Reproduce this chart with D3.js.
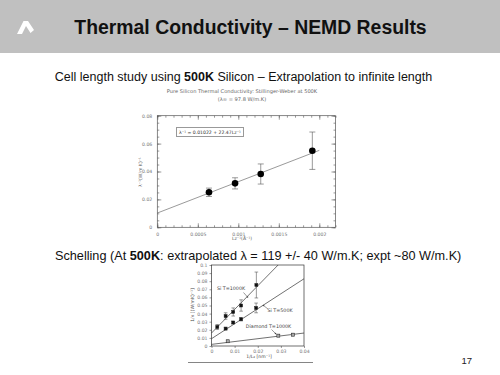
<!DOCTYPE html>
<html>
<head>
<meta charset="utf-8">
<script src="https://cdn.jsdelivr.net/npm/d3@7"></script>
<style>
  body { margin: 0; background: #fff; }
  svg text { font-family: "Liberation Sans", Arial, sans-serif; }
  .tiny text, text.tiny { font-family: "DejaVu Sans", sans-serif; font-size: 4.6px; fill: #777; }
  .tiny .domain { display: none; }
  .tiny line { stroke: #555; stroke-width: 0.6; }
</style>
</head>
<body>
<div id="viz"></div>
<script>
// top plot: cell length study, 500K silicon
var lzInv = [0.000638, 0.00096, 0.001277, 0.001914];
var lamInv = [0.0251, 0.0315, 0.0382, 0.0549];
var lamErr = [0.003, 0.004, 0.0072, 0.0134];
var fitA = 0.01022, fitB = 22.47;
var topXTicks = [0, 0.0005, 0.001, 0.0015, 0.002];
var topYTicks = [0, 0.02, 0.04, 0.06, 0.08];

// bottom plot: Schelling data
var si1000X = [0.0025, 0.0061, 0.0094, 0.0128, 0.0194];
var si1000Y = [0.0235, 0.037, 0.042, 0.050, 0.0753];
var si1000E = [0.003, 0.004, 0.005, 0.007, 0.016];
var si500X = [0.0061, 0.0094, 0.0128, 0.0193];
var si500Y = [0.0215, 0.029, 0.033, 0.047];
var si500E = [0.0015, 0.0015, 0.002, 0.006];
var diaX = [0.007, 0.0289, 0.0352];
var diaY = [0.0058, 0.0128, 0.014];
var diaE = [0.0015, 0.0015, 0.0015];
var fit1000 = [[0, 0.016], [0.0288, 0.1]];
var fit500 = [[0, 0.009], [0.04, 0.083]];
var fitDia = [[0, 0.002], [0.04, 0.016]];
var botXTicks = [0, 0.01, 0.02, 0.03, 0.04];
var botYTicks = [0, 0.01, 0.02, 0.03, 0.04, 0.05, 0.06, 0.07, 0.08, 0.09, 0.1];

var svg = d3.select('#viz').append('svg')
  .attr('width', 500).attr('height', 375);

// header band
svg.append('rect').attr('x', 0).attr('y', 0).attr('width', 500).attr('height', 53).attr('fill', '#c0c0c0');
svg.append('path')
  .attr('d', 'M17,34 L23.5,21 L28,21 L34,30 L30.5,33 L26,26 L22,34 Z')
  .attr('fill', '#fff');
svg.append('text')
  .attr('x', 250.5).attr('y', 34)
  .attr('text-anchor', 'middle')
  .attr('font-size', 19.4).attr('font-weight', 'bold').attr('fill', '#111')
  .text('Thermal Conductivity \u2013 NEMD Results');

let sub = svg.append('text')
  .attr('x', 243.5).attr('y', 81)
  .attr('text-anchor', 'middle')
  .attr('font-size', 12.5).attr('fill', '#111');
sub.append('tspan').text('Cell length study using ');
sub.append('tspan').attr('font-weight', 'bold').text('500K');
sub.append('tspan').text(' Silicon \u2013 Extrapolation to infinite length');

// ---------- top plot ----------
let xT = d3.scaleLinear().domain([0, 0.0022]).range([157.3, 335.5]);
let yT = d3.scaleLinear().domain([0, 0.08]).range([227.3, 115.7]);
let fmt = (d) => String(+d.toFixed(4));

let topPlot = svg.append('g').attr('class', 'tiny');

topPlot.append('text').attr('class', 'tiny').attr('x', 242).attr('y', 92.5).attr('text-anchor', 'middle')
  .style('font-size', '5.1px').style('fill', '#666')
  .text('Pure Silicon Thermal Conductivity: Stillinger-Weber at 500K');
topPlot.append('text').attr('class', 'tiny').attr('x', 242).attr('y', 100.5).attr('text-anchor', 'middle')
  .style('font-size', '5.1px').style('fill', '#666')
  .text('(\u03bb\u221e = 97.8 W/m.K)');

let xMinor = d3.range(0, 0.00221, 0.0001);
let yMinor = d3.range(0, 0.0801, 0.005);

topPlot.append('g').attr('transform', `translate(0, ${yT.range()[0]})`)
  .call(d3.axisBottom(xT).tickValues(xMinor).tickSize(-2).tickFormat(''));
topPlot.append('g').attr('transform', `translate(0, ${yT.range()[1]})`)
  .call(d3.axisTop(xT).tickValues(xMinor).tickSize(-2).tickFormat(''));
topPlot.append('g').attr('transform', `translate(${xT.range()[0]}, 0)`)
  .call(d3.axisLeft(yT).tickValues(yMinor).tickSize(-2).tickFormat(''));
topPlot.append('g').attr('transform', `translate(${xT.range()[1]}, 0)`)
  .call(d3.axisRight(yT).tickValues(yMinor).tickSize(-2).tickFormat(''));

topPlot.append('g').attr('transform', `translate(0, ${yT.range()[0]})`)
  .call(d3.axisBottom(xT).tickValues(topXTicks).tickSizeInner(-4).tickSizeOuter(0).tickPadding(5).tickFormat(fmt));
topPlot.append('g').attr('transform', `translate(0, ${yT.range()[1]})`)
  .call(d3.axisTop(xT).tickValues(topXTicks).tickSizeInner(-4).tickSizeOuter(0).tickFormat(''));
topPlot.append('g').attr('transform', `translate(${xT.range()[0]}, 0)`)
  .call(d3.axisLeft(yT).tickValues(topYTicks).tickSizeInner(-4).tickSizeOuter(0).tickPadding(5).tickFormat(fmt));
topPlot.append('g').attr('transform', `translate(${xT.range()[1]}, 0)`)
  .call(d3.axisRight(yT).tickValues(topYTicks).tickSizeInner(-4).tickSizeOuter(0).tickFormat(''));

topPlot.append('rect')
  .attr('x', xT.range()[0]).attr('y', yT.range()[1])
  .attr('width', xT.range()[1] - xT.range()[0]).attr('height', yT.range()[0] - yT.range()[1])
  .attr('fill', 'none').attr('stroke', '#555').attr('stroke-width', 0.7);

// fit line: thin to the first point, thick across the data
topPlot.append('line')
  .attr('x1', xT(0)).attr('y1', yT(fitA))
  .attr('x2', xT(lzInv[0])).attr('y2', yT(fitA + fitB * lzInv[0]))
  .attr('stroke', '#9ea8cc').attr('stroke-width', 0.7);
topPlot.append('line')
  .attr('x1', xT(lzInv[0])).attr('y1', yT(fitA + fitB * lzInv[0]))
  .attr('x2', xT(0.002)).attr('y2', yT(fitA + fitB * 0.002))
  .attr('stroke', '#111').attr('stroke-width', 1.6);

lzInv.forEach((x, i) => {
  let cx = xT(x);
  let g = topPlot.append('g');
  g.append('line').attr('x1', cx).attr('x2', cx)
    .attr('y1', yT(lamInv[i] - lamErr[i])).attr('y2', yT(lamInv[i] + lamErr[i]))
    .attr('stroke', '#777').attr('stroke-width', 0.7);
  [lamInv[i] - lamErr[i], lamInv[i] + lamErr[i]].forEach((v) => {
    g.append('line').attr('x1', cx - 3).attr('x2', cx + 3)
      .attr('y1', yT(v)).attr('y2', yT(v))
      .attr('stroke', '#777').attr('stroke-width', 0.7);
  });
  g.append('circle').attr('cx', cx).attr('cy', yT(lamInv[i])).attr('r', 3.3).attr('fill', '#000');
});

// legend box
topPlot.append('rect').attr('x', 176.7).attr('y', 127.3).attr('width', 66.6).attr('height', 9.4)
  .attr('fill', '#fff').attr('stroke', '#555').attr('stroke-width', 0.6);
topPlot.append('text').attr('class', 'tiny').attr('x', 210).attr('y', 133.8).attr('text-anchor', 'middle')
  .style('fill', '#333')
  .text('\u03bb\u207b\u00b9 = 0.01022 + 22.47Lz\u207b\u00b9');

topPlot.append('text').attr('class', 'tiny')
  .attr('transform', 'translate(141.5, 172) rotate(-90)').attr('text-anchor', 'middle')
  .style('fill', '#555')
  .text('\u03bb\u207b\u00b9(W/m K)\u207b\u00b9');
topPlot.append('text').attr('class', 'tiny').attr('x', 242).attr('y', 240).attr('text-anchor', 'middle')
  .style('fill', '#555')
  .text('Lz\u207b\u00b9(\u00c5\u207b\u00b9)');

// ---------- middle text ----------
let mid = svg.append('text')
  .attr('x', 55).attr('y', 259.5)
  .attr('font-size', 12.7).attr('fill', '#111');
mid.append('tspan').text('Schelling (At ');
mid.append('tspan').attr('font-weight', 'bold').text('500K');
mid.append('tspan').text(': extrapolated  \u03bb =  119 +/- 40 W/m.K; expt ~80 W/m.K)');

// ---------- bottom plot ----------
let xB = d3.scaleLinear().domain([0, 0.04]).range([211.5, 304]);
let yB = d3.scaleLinear().domain([0, 0.1]).range([346, 265]);
let bot = svg.append('g').attr('class', 'tiny');

bot.append('g').attr('transform', `translate(0, ${yB(0)})`)
  .call(d3.axisBottom(xB).tickValues(botXTicks).tickSizeInner(2).tickSizeOuter(0).tickPadding(1.5)
    .tickFormat((d) => String(+d.toFixed(2))));
bot.append('g').attr('transform', `translate(${xB(0)}, 0)`)
  .call(d3.axisLeft(yB).tickValues(botYTicks).tickSizeInner(2).tickSizeOuter(0).tickPadding(2)
    .tickFormat((d) => String(+d.toFixed(2))));
bot.append('rect')
  .attr('x', xB(0)).attr('y', yB(0.1))
  .attr('width', xB(0.04) - xB(0)).attr('height', yB(0) - yB(0.1))
  .attr('fill', 'none').attr('stroke', '#333').attr('stroke-width', 0.7);

let lineGen = d3.line().x((d) => xB(d[0])).y((d) => yB(d[1]));
[fit1000, fit500, fitDia].forEach((f) => {
  bot.append('path').attr('d', lineGen(f)).attr('fill', 'none').attr('stroke', '#333').attr('stroke-width', 0.7);
});

function series(xs, ys, es, fill) {
  xs.forEach((x, i) => {
    let cx = xB(x);
    bot.append('line').attr('x1', cx).attr('x2', cx)
      .attr('y1', yB(ys[i] - es[i])).attr('y2', yB(ys[i] + es[i]))
      .attr('stroke', '#333').attr('stroke-width', 0.6);
    [ys[i] - es[i], ys[i] + es[i]].forEach((v) => {
      bot.append('line').attr('x1', cx - 1.8).attr('x2', cx + 1.8)
        .attr('y1', yB(v)).attr('y2', yB(v))
        .attr('stroke', '#333').attr('stroke-width', 0.6);
    });
    bot.append('rect').attr('x', cx - 1.5).attr('y', yB(ys[i]) - 1.5)
      .attr('width', 3).attr('height', 3)
      .attr('fill', fill).attr('stroke', '#222').attr('stroke-width', 0.5);
  });
}
series(si1000X, si1000Y, si1000E, '#111');
series(si500X, si500Y, si500E, '#111');
series(diaX, diaY, diaE, '#aaa');

// annotations
let ann = [
  { t: 'Si T=1000K', x: 231, y: 290, a: [243.5, 292.5, 247.5, 297] },
  { t: 'Si T=500K', x: 280, y: 312, a: [268, 309, 263.5, 305.5] },
  { t: 'Diamond T=1000K', x: 268.5, y: 327.5, a: [271.5, 329.5, 275.5, 333.5] }
];
ann.forEach((d) => {
  bot.append('text').attr('class', 'tiny').attr('x', d.x).attr('y', d.y).attr('text-anchor', 'middle')
    .style('fill', '#444').style('font-size', '4.8px').text(d.t);
  bot.append('line').attr('x1', d.a[0]).attr('y1', d.a[1]).attr('x2', d.a[2]).attr('y2', d.a[3])
    .attr('stroke', '#444').attr('stroke-width', 0.6);
  bot.append('circle').attr('cx', d.a[2]).attr('cy', d.a[3]).attr('r', 0.8).attr('fill', '#444');
});

bot.append('text').attr('class', 'tiny')
  .attr('transform', 'translate(194, 305) rotate(-90)').attr('text-anchor', 'middle')
  .style('fill', '#444')
  .text('1/\u03ba [(W/mK)\u207b\u00b9]');
bot.append('text').attr('class', 'tiny').attr('x', 259).attr('y', 357.5).attr('text-anchor', 'middle')
  .style('fill', '#444')
  .text('1/L\u2082 [nm\u207b\u00b9]');

svg.append('line').attr('x1', 188).attr('x2', 313).attr('y1', 362.5).attr('y2', 362.5)
  .attr('stroke', '#666').attr('stroke-width', 0.8);

svg.append('text').attr('x', 472).attr('y', 364).attr('text-anchor', 'end')
  .attr('font-size', 9.5).attr('fill', '#222').text('17');
</script>
</body>
</html>
